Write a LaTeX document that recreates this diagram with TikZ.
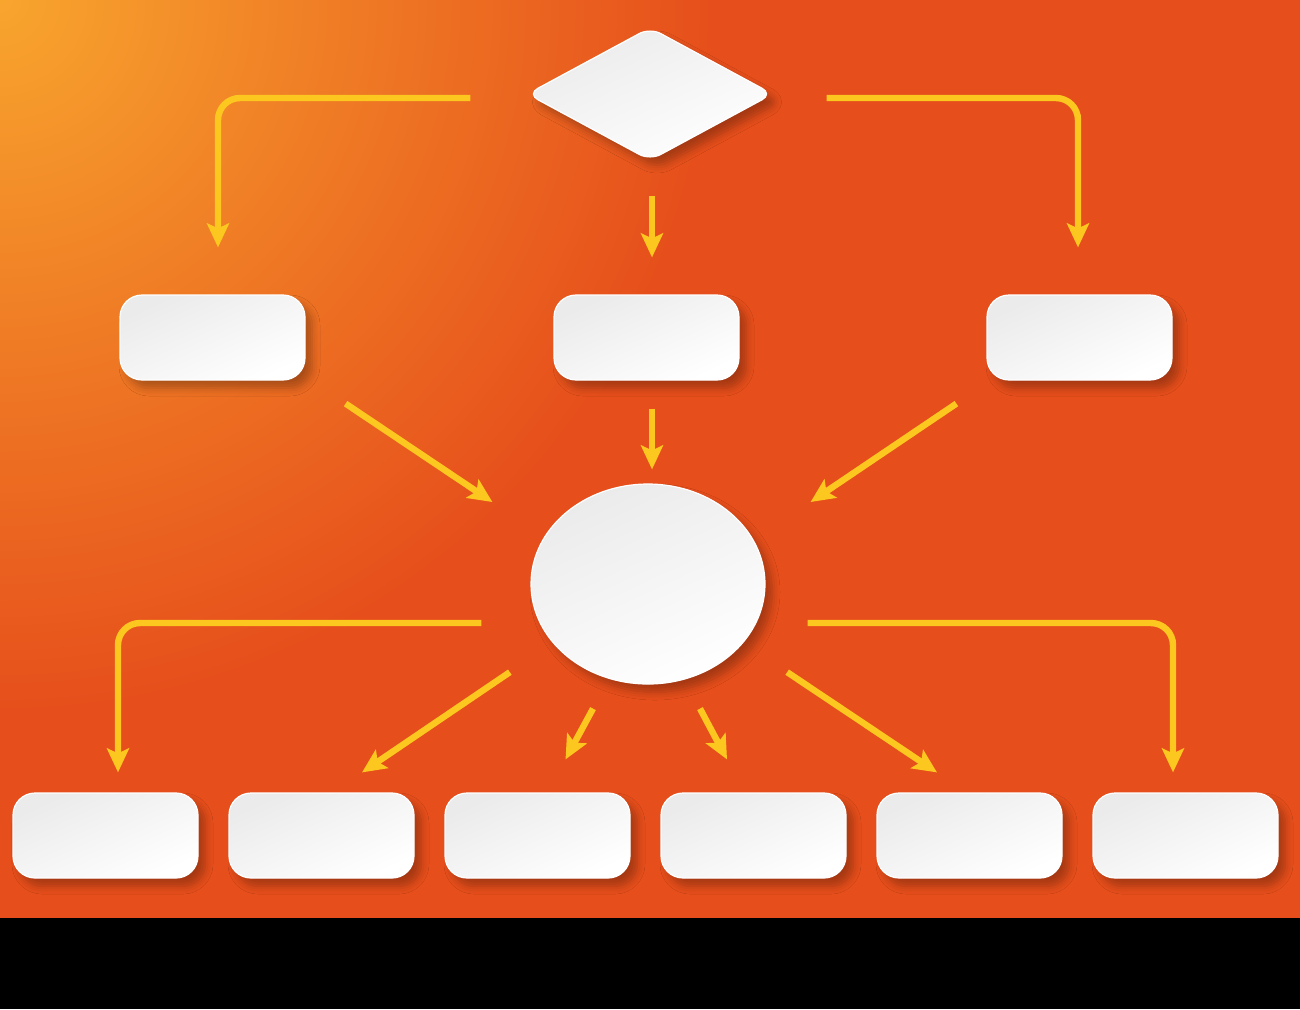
\documentclass[tikz,border=0pt]{standalone}
\usetikzlibrary{arrows.meta,shapes.geometric,shadows.blur,calc}
\definecolor{bgbase}{HTML}{E64E1B}
\definecolor{bgtop}{HTML}{F8A52E}
\definecolor{flowyellow}{HTML}{FCC820}
\tikzset{
  card/.style={draw=white,line width=0.6pt,top color=black!8,bottom color=white,shading angle=25,
    blur shadow={shadow xshift=3.5pt,shadow yshift=-4pt,shadow blur radius=4pt,shadow opacity=28}},
  box/.style={card,rectangle,rounded corners=11pt,minimum width=92.5pt,minimum height=42.5pt,inner sep=0pt},
  decision/.style={card,diamond,aspect=1.85,rounded corners=6pt,minimum width=123pt,minimum height=66.5pt,inner sep=0pt},
  hubstyle/.style={card,ellipse,minimum width=117pt,minimum height=100pt,inner sep=0pt},
  flow/.style={draw=flowyellow,line width=3.2pt,-{Stealth[length=12pt,width=11pt,inset=2.5pt]}},
  elbow/.style={rounded corners=11pt}
}
\begin{document}
\begin{tikzpicture}[x=0.5pt,y=-0.5pt]
\useasboundingbox (0,0) rectangle (1300,1009);
% background
\fill[bgbase] (0,0) rectangle (1300,918);
\begin{scope}
\clip (0,0) rectangle (1300,918);
\shade[inner color=bgtop,outer color=bgbase] (0,0) circle (720);
\end{scope}
\fill[black] (0,918) rectangle (1300,1009);
% shapes
\node[decision] (dia) at (650,94) {};
\node[box] (b1) at (212.5,337.5) {};
\node[box] (b2) at (646.5,337.5) {};
\node[box] (b3) at (1079.5,337.5) {};
\node[hubstyle] (hub) at (648,584) {};
\foreach \i in {1,...,6}{
	\node[box] (c\i) at ({105.5+216*(\i-1)},835.5) {};
}
% top arrows
\draw[flow,elbow] ($(dia.west)+(-56,4)$) -| ($(b1.north)+(5.5,-47)$);
\draw[flow,elbow] ($(dia.east)+(53,4)$) -| ($(b3.north)+(-1.5,-47)$);
\draw[flow] ($(dia.south)+(2,35)$) -- ($(b2.north)+(5.5,-37)$);
% into the hub
\draw[flow] ($(b1.south east)+(40,23)$) -- ($(hub.west)+(-38,-82)$);
\draw[flow] ($(b2.south)+(5.5,28)$) -- ($(hub.north)+(4,-14)$);
\draw[flow] ($(b3.south west)+(-30,23)$) -- ($(hub.east)+(45,-82)$);
% out of the hub
\draw[flow,elbow] ($(hub.west)+(-49,39)$) -| ($(c1.north)+(12.5,-20)$);
\draw[flow,elbow] ($(hub.east)+(42,39)$) -| ($(c6.north)+(-12.5,-20)$);
\draw[flow] ($(hub.south west)+(-55,17)$) -- ($(c2.north)+(40.5,-20)$);
\draw[flow] ($(hub.south)+(-55,24)$) -- ($(c3.north)+(28,-33)$);
\draw[flow] ($(hub.south)+(52,24)$) -- ($(c4.north)+(-26.5,-33)$);
\draw[flow] ($(hub.south east)+(56,17)$) -- ($(c5.north)+(-32.5,-20)$);
\end{tikzpicture}
\end{document}
